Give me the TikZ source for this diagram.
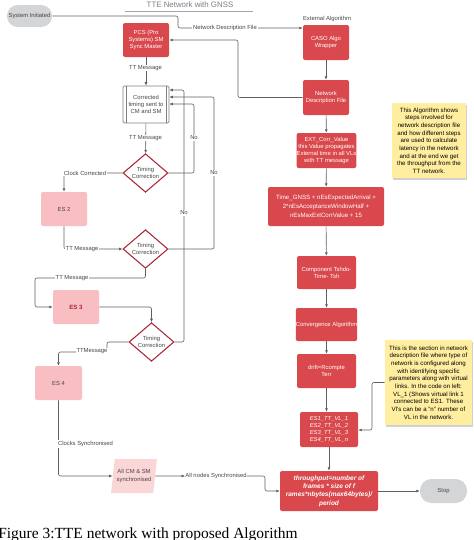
\documentclass[tikz,border=0pt]{standalone}
\usepackage{fontspec}
\setmainfont{Liberation Sans}
\newfontfamily\capfont{Liberation Serif}
\usetikzlibrary{shapes.geometric,arrows.meta,shadows}
\definecolor{boxred}{RGB}{217,72,76}
\definecolor{dred}{RGB}{170,40,58}
\definecolor{espink}{RGB}{249,190,194}
\definecolor{parapink}{RGB}{251,214,214}
\definecolor{pillgray}{RGB}{212,213,215}
\definecolor{noteyellow}{RGB}{255,238,160}
\definecolor{linegray}{RGB}{95,95,95}
\definecolor{txtgray}{RGB}{70,70,70}
\definecolor{titlegray}{RGB}{125,125,135}
\begin{document}
\begin{tikzpicture}[x=0.75pt,y=-0.75pt,
  sz/.style 2 args={minimum width=#1*0.75pt,minimum height=#2*0.75pt},
  base/.style={inner sep=0pt,align=center,font=\fontsize{4.4}{5.4}\selectfont},
  redbox/.style={base,rectangle,rounded corners=1.5pt,fill=boxred,text=white},
  esbox/.style={base,rectangle,rounded corners=1.5pt,fill=espink,text=txtgray},
  decision/.style={base,diamond,draw=dred,line width=0.8pt,fill=white,text=txtgray},
  pill/.style={base,rectangle,rounded corners=8pt,fill=pillgray,text=txtgray},
  note/.style={base,rectangle,fill=noteyellow,text=black,
    font=\fontsize{4.6}{5.75}\selectfont,
    drop shadow={shadow xshift=0.8pt,shadow yshift=-1.3pt,opacity=0.3,fill=black!60}},
  lbl/.style={base,fill=white,inner sep=0.6pt,text=txtgray},
  conn/.style={draw=linegray,line width=0.45pt,rounded corners=1.5pt},
  arr/.style={conn,-{Latex[length=2.6pt,width=2.2pt]}}
]
\useasboundingbox (0,0) rectangle (474,540);

% title
\node[base,font=\fontsize{5.9}{7}\selectfont,text=titlegray] (title) at (190,5) {TTE Network with GNSS};
\draw[draw=titlegray!70,line width=0.4pt] (125,11) -- (253,11);

% left column
\node[pill,sz={45}{22}] (sys) at (29.5,16) {System Initiated};
\node[redbox,sz={46}{34}] (pcs) at (146,40) {PCS (Pro\\Systems) SM\\Sync Master};
\node[base,rectangle,rounded corners=1pt,draw=linegray!80,line width=0.45pt,fill=white,text=txtgray,sz={46}{37}] (corr) at (146,104.5) {Corrected\\timing sent to\\CM and SM};
\draw[draw=linegray!80,line width=0.45pt] ([xshift=2.4pt]corr.north west) -- ([xshift=2.4pt]corr.south west);
\draw[draw=linegray!80,line width=0.45pt] ([xshift=-2.4pt]corr.north east) -- ([xshift=-2.4pt]corr.south east);
\node[decision,sz={45}{35}] (tc1) at (145.5,173) {Timing\\Correction};
\node[esbox,sz={46}{34}] (es2) at (64,209) {ES 2};
\node[decision,sz={45}{35}] (tc2) at (145.5,249) {Timing\\Correction};
\node[esbox,sz={46}{34},text=dred,font=\bfseries\fontsize{4.6}{5.4}\selectfont] (es3) at (76,307) {ES 3};
\node[decision,sz={45}{35}] (tc3) at (151.5,342) {Timing\\Correction};
\node[esbox,sz={47}{34}] (es4) at (58.5,383) {ES 4};
\node[base,trapezium,trapezium left angle=75,trapezium right angle=105,trapezium stretches=true,
  fill=parapink,text=txtgray,sz={46}{34}] (para) at (134,476) {All CM \& SM\\synchronised};
\node[base,text=txtgray] (allsync) at (216,476) {All nodes Synchronised};

% right column
\node[base,text=txtgray] (extalg) at (327,19) {External Algorithm};
\node[redbox,sz={46}{35}] (caso) at (326,42.5) {CASO Algo\\Wrapper};
\node[redbox,sz={46}{35}] (ndf) at (326,97.5) {Network\\Description File};
\node[redbox,sz={59}{35}] (ext) at (326.5,150.5) {EXT\_Corr\_Value\\this Value propagates\\External time in all VLs\\with TT message};
\node[redbox,sz={116}{39},font=\fontsize{4.6}{6.6}\selectfont] (tg) at (326,206.5) {Time\_GNSS + nEsExpectedArrival +\\2*nEsAcceptanceWindowHalf +\\nEsMaxExtCorrValue + 15};
\node[redbox,sz={59}{33}] (comp) at (326.5,272.5) {Component Tshdo-\\Time- Tsh};
\node[redbox,sz={59}{33}] (conv) at (326.5,324.5) {Convergence Algorithm};
\node[redbox,sz={59}{34}] (drift) at (326.5,371) {drift=Rcompte\\Terr};
\node[redbox,sz={58}{35},font=\itshape\fontsize{4.4}{5.4}\selectfont] (esvl) at (329,429.5) {ES1\_TT\_VL\_1\\ES2\_TT\_VL\_2\\ES3\_TT\_VL\_3\\ES4\_TT\_VL\_n};
\node[redbox,sz={98}{40},font=\bfseries\itshape\fontsize{4.9}{6.2}\selectfont] (thr) at (329,491) {throughput=number of\\frames * size of f\\rames*nbytes(max64bytes)/\\period};
\node[pill,sz={47}{24},rounded corners=8.5pt] (stop) at (443.5,491) {Stop};

% notes
\node[note,sz={74}{75}] (note1) at (429,140.5) {This Algorithm shows\\steps involved for\\network description file\\and how different steps\\are used to calculate\\latency in the network\\and at the end we get\\the throughput from the\\TT network.};
\node[note,sz={87}{85}] (note2) at (428.5,382.5) {This is the section in network\\description file where type of\\network is configured along\\with identifying specific\\parameters along with virtual\\links. In the code on left:\\VL\_1 (Shows virtual link 1\\connected to ES1. These\\Vl's can be a "n" number of\\VL in the network.};

% connectors
\draw[arr] (sys.east) -- (178,16) -- (178,28) -- (caso.west |- 0,28);
\draw[arr] (caso) -- (ndf);
\draw[arr] (ndf.west) -- (238,97.5) -- (238,40) -- (pcs.east);
\draw[arr] (pcs) -- (corr);
\draw[arr] (corr) -- (tc1);
\draw[arr] (tc1.west) -- (64,173) -- (es2.north);
\draw[arr] (es2.south) -- (64,249) -- (tc2.west);
\draw[arr] (tc2.south) -- (145.5,278) -- (35,278) -- (35,307) -- (es3.west);
\draw[arr] (es3.east) -- (151.5,307) -- (tc3.north);
\draw[arr] (tc3.west) -- (107,342) -- (107,352) -- (58.5,352) -- (es4.north);
\draw[arr] (es4.south) -- (58.5,476) -- (para.west);
\draw[arr] (para.east) -- (allsync.west);
\draw[arr] (allsync.east) -- (265,476) -- (265,491) -- (thr.west);
\draw[arr] (thr.east) -- (stop.west);
\draw[arr] (tc1.east) -- (194,173) -- (194,104) -- (corr.east |- 0,104);
\draw[arr] (tc2.east) -- (214,249) -- (214,97) -- (corr.east |- 0,97);
\draw[arr] (tc3.east) -- (184,342) -- (184,90) -- (corr.east |- 0,90);
\draw[arr] (ndf) -- (ext);
\draw[arr] (ext) -- (tg);
\draw[arr] (tg) -- (comp);
\draw[arr] (comp) -- (conv);
\draw[arr] (conv) -- (drift);
\draw[arr] (drift) -- (esvl.north -| drift.south);
\draw[arr] (esvl) -- (thr);
\draw[arr] (note2.west) -- (372,382.5) -- (372,430) -- (esvl.east |- 0,430);

% connector labels
\node[lbl] (l1) at (225,28) {Network Description File};
\node[lbl] (l2) at (145.5,68) {TT Message};
\node[lbl] (l3) at (145.5,138) {TT Message};
\node[lbl] (l4) at (85,173) {Clock Corrected};
\node[lbl] (l5) at (82,249) {TT Message};
\node[lbl] (l6) at (72,278) {TT Message};
\node[lbl] (l7) at (92,351) {TTMessage};
\node[lbl,anchor=west] (l8) at (57,444) {Clocks Synchronised};
\node[lbl] (n1) at (194,138) {No};
\node[lbl] (n2) at (214,173) {No};
\node[lbl] (n3) at (184,213) {No};

% caption
\node[anchor=base west,inner sep=0pt,font=\capfont\fontsize{11.6}{13}\selectfont] (cap) at (-2,538.5) {Figure 3:TTE network with proposed Algorithm};
\end{tikzpicture}
\end{document}
